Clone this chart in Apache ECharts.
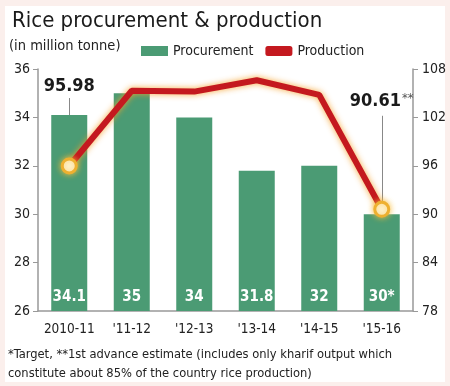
<!DOCTYPE html>
<html><head><meta charset="utf-8">
<script src="https://cdn.jsdelivr.net/npm/echarts@6/dist/echarts.min.js"></script>
<style>html,body{margin:0;padding:0;background:#fff}#c{width:450px;height:386px}</style>
</head><body><div id="c"></div>
<script>
var categories = ['2010-11', "'11-12", "'12-13", "'13-14", "'14-15", "'15-16"];
var procurement = [34.1, 35, 34, 31.8, 32, 30];
var procurementLabels = ['34.1', '35', '34', '31.8', '32', '30*'];
var production = [95.98, 105.3, 105.2, 106.6, 104.8, 90.61];
var leftTicks = [26, 28, 30, 32, 34, 36];
var rightTicks = [78, 84, 90, 96, 102, 108];

var FONT = "'Liberation Sans Narrow','DejaVu Sans Condensed','Roboto Condensed',sans-serif";
var chart = echarts.init(document.getElementById('c'), null, {renderer: 'canvas'});

var lineData = production.map(function (v, i) {
  var item = {value: v, symbol: 'none'};
  if (i === 0) {
    item.symbol = 'circle';
    item.label = {show: true, position: 'top', distance: 62, formatter: '{a|95.98}'};
  } else if (i === production.length - 1) {
    item.symbol = 'circle';
    item.label = {show: true, position: 'top', distance: 90, formatter: '{a|90.61}{b|**}'};
  }
  return item;
});

chart.setOption({
  backgroundColor: '#fbefec',
  animation: false,
  graphic: [
    {type: 'rect', shape: {x: 5, y: 6, width: 440, height: 376}, style: {fill: '#ffffff'}, z: -10},
    {type: 'text', left: 9, top: 39, style: {text: '(in million tonne)', fontFamily: FONT, fontSize: 14.5, fill: '#222'}},
    {type: 'text', left: 8, top: 345, style: {text: '*Target, **1st advance estimate (includes only kharif output which\nconstitute about 85% of the country rice production)', fontFamily: FONT, fontSize: 12.8, lineHeight: 19, fill: '#222'}}
  ],
  title: {
    text: 'Rice procurement & production', left: 7, top: 5,
    textStyle: {fontFamily: FONT, fontSize: 22, fontWeight: 'normal', color: '#1a1a1a'}
  },
  legend: {
    left: 136, top: 39, itemGap: 12, itemWidth: 27, itemHeight: 10,
    textStyle: {fontFamily: FONT, fontSize: 14, color: '#222'},
    data: [
      {name: 'Procurement', icon: 'rect', itemStyle: {color: '#4b9b74', borderWidth: 0}},
      {name: 'Production', icon: 'roundRect', itemStyle: {color: '#c4191f', borderWidth: 0, shadowBlur: 0}}
    ]
  },
  grid: {left: 38, right: 37, top: 69, bottom: 75},
  xAxis: {
    type: 'category', data: categories,
    axisLine: {lineStyle: {color: '#999', width: 1.5}},
    axisTick: {show: false},
    axisLabel: {interval: 0, fontFamily: FONT, fontSize: 13.5, color: '#222', margin: 11}
  },
  yAxis: [
    {type: 'value', min: leftTicks[0], max: leftTicks[leftTicks.length - 1], interval: 2,
     axisLine: {show: true, lineStyle: {color: '#999', width: 1.5}},
     axisTick: {show: true, length: 5, lineStyle: {color: '#999'}},
     splitLine: {show: false},
     axisLabel: {fontFamily: FONT, fontSize: 14, color: '#222', margin: 8}},
    {type: 'value', min: rightTicks[0], max: rightTicks[rightTicks.length - 1], interval: 6,
     axisLine: {show: true, lineStyle: {color: '#999', width: 1.5}},
     axisTick: {show: true, length: 5, lineStyle: {color: '#999'}},
     splitLine: {show: false},
     axisLabel: {fontFamily: FONT, fontSize: 14, color: '#222', margin: 9}}
  ],
  series: [
    {
      name: 'Procurement', type: 'bar', data: procurement, barWidth: 36,
      itemStyle: {color: '#4b9b74'},
      label: {show: true, position: 'insideBottom', distance: 6,
        formatter: function (p) { return procurementLabels[p.dataIndex]; },
        fontFamily: FONT, fontSize: 15, fontWeight: 'bold', color: '#fff'}
    },
    {
      name: 'Production', type: 'line', yAxisIndex: 1, data: lineData,
      symbolSize: 14,
      lineStyle: {color: '#c4191f', width: 6, shadowColor: 'rgba(245,160,40,0.9)', shadowBlur: 6},
      itemStyle: {color: '#fffbe8', borderColor: '#eeb030', borderWidth: 3, shadowColor: 'rgba(250,190,60,0.9)', shadowBlur: 6},
      label: {
        rich: {
          a: {fontFamily: FONT, fontSize: 18, fontWeight: 'bold', color: '#1a1a1a'},
          b: {fontFamily: FONT, fontSize: 13, color: '#555', verticalAlign: 'top', padding: [0, 0, 6, 1]}
        }
      },
      markLine: {
        silent: true, symbol: 'none', z: 1,
        lineStyle: {color: '#888', width: 1, type: 'solid', shadowBlur: 0},
        label: {show: false},
        data: [
          [{coord: [0, production[0]]}, {coord: [0, 104.4]}],
          [{coord: [5, production[5]]}, {coord: [5, 102.2]}]
        ]
      },
      z: 5
    }
  ]
});
</script></body></html>
